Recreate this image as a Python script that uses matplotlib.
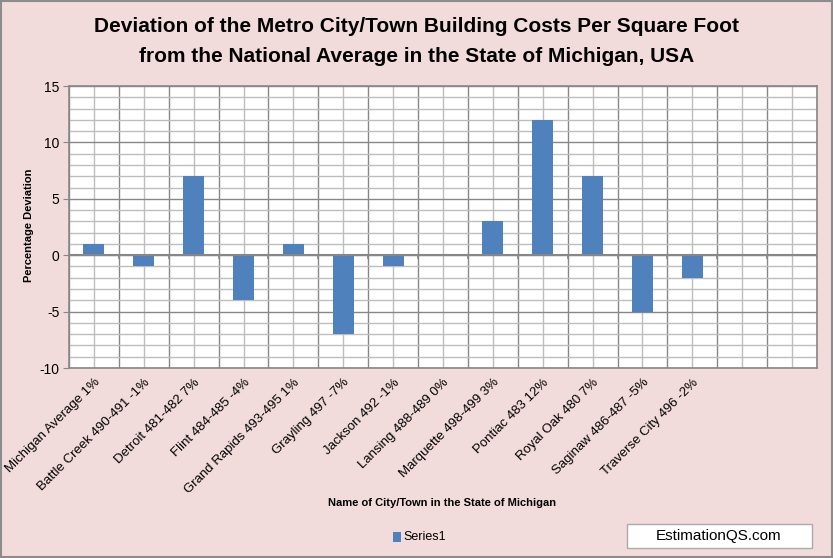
import numpy as np
import matplotlib
matplotlib.use("Agg")
import matplotlib.pyplot as plt
from matplotlib.patches import Rectangle

# data
cities = ["Michigan Average 1%", "Battle Creek 490-491 -1%", "Detroit 481-482 7%",
          "Flint 484-485 -4%", "Grand Rapids 493-495 1%", "Grayling 497 -7%",
          "Jackson 492 -1%", "Lansing 488-489 0%", "Marquette 498-499 3%",
          "Pontiac 483 12%", "Royal Oak 480 7%", "Saginaw 486-487 -5%",
          "Traverse City 496 -2%", "", ""]
deviation = [1, -1, 7, -4, 1, -7, -1, 0, 3, 12, 7, -5, -2, np.nan, np.nan]

BG = "#F2DCDB"
BAR = "#4F81BD"
GRID_MAJ = "#878787"
GRID_MIN = "#BDBDBD"

plt.rcParams['font.family'] = ['Liberation Sans', 'DejaVu Sans']
plt.rcParams['axes.unicode_minus'] = False

fig = plt.figure(figsize=(8.33, 5.58), dpi=100, facecolor=BG)
ax = fig.add_axes([69/833, 1-368/558, 748/833, 282/558])
ax.set_facecolor("white")

x = np.arange(len(cities))
ax.set_xlim(-0.5, len(cities)-0.5)
ax.set_ylim(-10, 15)

# grid: category centres light, boundaries dark; every unit light, every 5 dark
ax.set_xticks(x)
ax.set_xticks(np.arange(-0.5, len(cities), 1), minor=True)
ax.set_yticks(np.arange(-10, 16, 5))
ax.set_yticks(np.arange(-10, 16, 1), minor=True)
ax.grid(which='major', axis='x', color=GRID_MIN, lw=1.0)
ax.grid(which='minor', axis='x', color=GRID_MAJ, lw=1.0)
ax.grid(which='minor', axis='y', color=GRID_MIN, lw=1.0)
ax.grid(which='major', axis='y', color=GRID_MAJ, lw=1.0)
ax.set_axisbelow(True)

ax.bar(x, deviation, width=0.42, color=BAR, zorder=3)

# category axis drawn at zero
ax.axhline(0, color=GRID_MAJ, lw=1.5, zorder=4)
ax.vlines(np.arange(-0.5, len(cities), 1), -0.3, 0, color=GRID_MAJ, lw=1.2, zorder=4)

for s in ax.spines.values():
    s.set_color(GRID_MAJ)
    s.set_linewidth(1.2)

ax.tick_params(axis='x', which='both', length=0, pad=6)
ax.tick_params(axis='y', which='minor', length=0)
ax.tick_params(axis='y', which='major', length=4, color=GRID_MAJ, labelsize=10, pad=3)
ax.set_xticklabels(cities, rotation=45, ha='right', rotation_mode='anchor', fontsize=9.5)

ax.set_ylabel("Percentage Deviation", fontsize=8, fontweight='bold')
ax.yaxis.set_label_coords((34-69)/748, (368-225)/282)
ax.set_xlabel("Name of City/Town in the State of Michigan", fontsize=8, fontweight='bold')
ax.xaxis.set_label_coords((442-69)/748, (368-498)/282)

fig.text(0.5, 1-27/558, "Deviation of the Metro City/Town Building Costs Per Square Foot",
         ha='center', va='center', fontsize=15, fontweight='bold')
fig.text(0.5, 1-57/558, "from the National Average in the State of Michigan, USA",
         ha='center', va='center', fontsize=15, fontweight='bold')

# legend
fig.patches.append(Rectangle((393/833, 1-542/558), 8/833, 10/558, transform=fig.transFigure,
                             facecolor=BAR, edgecolor='none'))
fig.text(403/833, 1-537/558, "Series1", ha='left', va='center', fontsize=9)

# watermark box
fig.patches.append(Rectangle((627/833, 1-548/558), 185/833, 24/558, transform=fig.transFigure,
                             facecolor='white', edgecolor='#AAAAAA', lw=1))
fig.text(719/833, 1-536/558, "EstimationQS.com", ha='center', va='center', fontsize=11)

# figure border
fig.patches.append(Rectangle((0.001, 0.001), 0.998, 0.997, transform=fig.transFigure,
                             facecolor='none', edgecolor='#8C8C8C', lw=1.5))

fig.savefig("out.png", dpi=100, facecolor=BG)
